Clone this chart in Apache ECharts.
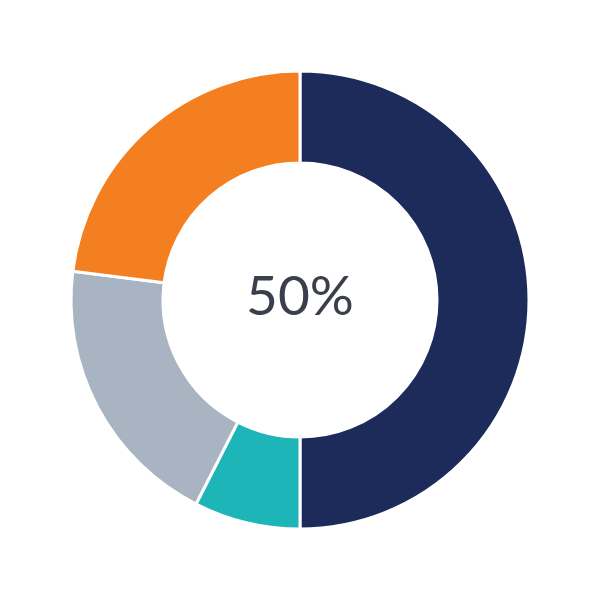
<!DOCTYPE html>
<html>
<head>
<meta charset="utf-8">
<script src="https://cdn.jsdelivr.net/npm/echarts@6/dist/echarts.min.js"></script>
<style>
  html, body { margin: 0; padding: 0; background: #fff; }
  #chart { width: 600px; height: 600px; }
</style>
</head>
<body>
<div id="chart"></div>
<script>
// data
const names = ["A", "B", "C", "D"];
const values = [50, 7.5, 19.5, 23];
const colors = ["#1c2b59", "#1db5b8", "#a9b4c2", "#f47f20"];
const centerText = "50%";

let chart = echarts.init(document.getElementById("chart"));
let option = {
  animation: false,
  title: {
    text: centerText,
    left: "center",
    top: 265,
    textStyle: {
      fontFamily: "Lato",
      fontWeight: "normal",
      fontSize: 55,
      color: "#3b3f4b"
    }
  },
  series: [
    {
      type: "pie",
      center: [300, 300],
      radius: [137, 229],
      startAngle: 90,
      clockwise: true,
      label: { show: false },
      labelLine: { show: false },
      itemStyle: { borderColor: "#fff", borderWidth: 3 },
      data: names.map((n, i) => ({
        name: n,
        value: values[i],
        itemStyle: { color: colors[i] }
      }))
    }
  ]
};
chart.setOption(option, true);
</script>
</body>
</html>
